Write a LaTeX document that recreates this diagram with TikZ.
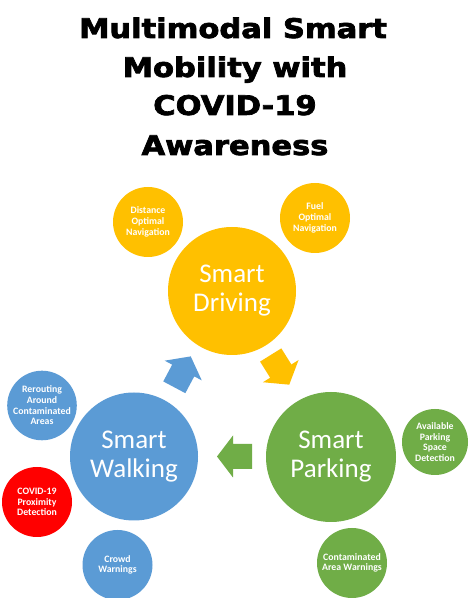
\documentclass[tikz,border=0pt]{standalone}
\usepackage{fontspec}
\setmainfont{Carlito}
\newfontfamily\titlefont{DejaVu Sans}
\definecolor{gold}{HTML}{FFC000}
\definecolor{wblue}{HTML}{5B9BD5}
\definecolor{pgreen}{HTML}{70AD47}
\definecolor{cred}{HTML}{FF0000}
\tikzset{
  big/.style={circle, inner sep=0pt, minimum size=128pt, text=white, align=center,
    font=\fontsize{27}{29}\selectfont},
  small/.style={circle, inner sep=0pt, minimum size=70pt, text=white, align=center,
    font=\bfseries\fontsize{9.8}{10.7}\selectfont},
  titleline/.style={anchor=base, inner sep=0pt, xscale=1.13,
    font=\titlefont\bfseries\addfontfeature{FakeBold=2.5}\fontsize{27}{27}\selectfont},
  blockarrow/.pic={\path[pic actions] (0,-12.5) -- (19,-12.5) -- (19,-21) -- (35,0)
    -- (19,21) -- (19,12.5) -- (0,12.5) -- cycle;}
}
\begin{document}
\begin{tikzpicture}[x=1pt,y=1pt]
\useasboundingbox[fill=white] (0,0) rectangle (474,598);
% title
\node[titleline] (t1) at (233,560) {Multimodal Smart};
\node[titleline] (t2) at (235,521) {Mobility with};
\node[titleline] (t3) at (235,483) {COVID-19};
\node[titleline] (t4) at (235,443) {Awareness};
% big circles
\node[big, fill=gold] (driving) at (232,307) {Smart\\Driving};
\node[big, fill=wblue] (walking) at (134,141.5) {Smart\\Walking};
\node[big, fill=pgreen, minimum size=130pt] (parking) at (331,141) {Smart\\Parking};
% small circles
\node[small, fill=gold] (distance) at (148,376) {Distance\\Optimal\\Navigation};
\node[small, fill=gold] (fuel) at (315,380) {Fuel\\Optimal\\Navigation};
\node[small, fill=wblue, minimum size=66pt] (reroute) at (42,192.5) {Rerouting\\Around\\Contaminated\\Areas};
\node[small, fill=cred] (covid) at (37,96) {COVID-19\\Proximity\\Detection};
\node[small, fill=wblue] (crowd) at (117.5,33) {Crowd\\Warnings};
\node[small, fill=pgreen, minimum size=66pt] (avail) at (435,156) {Available\\Parking\\Space\\Detection};
\node[small, fill=pgreen] (caw) at (352,35) {Contaminated\\Area Warnings};
% block arrows
\pic[fill=wblue, rotate=62] (arrowWD) at (174.3,210.7) {blockarrow};
\pic[fill=gold, rotate=-58] (arrowDP) at (270.7,243) {blockarrow};
\pic[fill=pgreen, rotate=180] (arrowPW) at (252,141.5) {blockarrow};
\end{tikzpicture}
\end{document}
